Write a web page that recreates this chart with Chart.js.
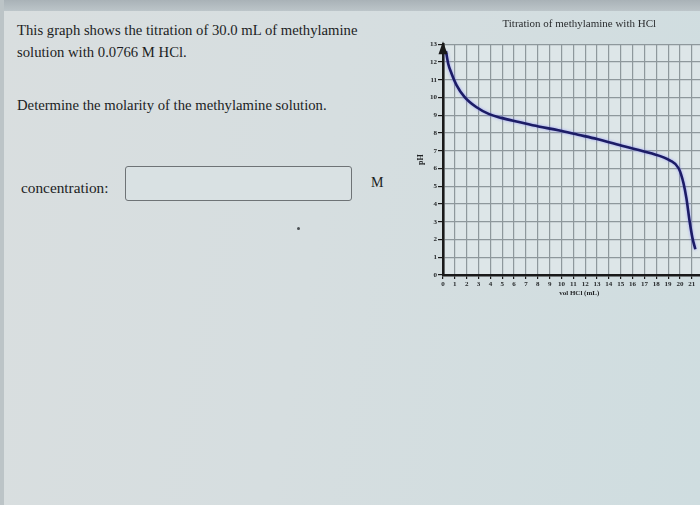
<!DOCTYPE html>
<html>
<head>
<meta charset="utf-8">
<script src="https://cdn.jsdelivr.net/npm/chart.js@4.4.0/dist/chart.umd.min.js"></script>
<style>
  html, body { margin: 0; padding: 0; }
  body {
    width: 700px; height: 505px; overflow: hidden; position: relative;
    background: linear-gradient(100deg, #d9dedf 0%, #d6dee0 45%, #cfdde0 100%);
    font-family: "Liberation Serif", "DejaVu Serif", serif;
    color: #1b1d1e;
  }
  .topband { position: absolute; left: 0; top: 0; width: 700px; height: 11px;
    background: linear-gradient(180deg, #a9b2b7, #bcc5c9); }
  .leftband { position: absolute; left: 0; top: 0; width: 4px; height: 505px; background: #bcc4c7; }
  .txt { position: absolute; font-size: 14.7px; line-height: 22px; white-space: nowrap; }
  .box { position: absolute; left: 125px; top: 166px; width: 225px; height: 33px;
    border: 1.5px solid #6e7376; border-radius: 3px; background: #d9e1e3; }
  .speck { position: absolute; left: 297px; top: 227px; width: 3px; height: 3px; border-radius: 50%; background: #4a4f52; }
  #chart-wrap { position: absolute; left: 400px; top: 0; width: 320px; height: 305px; }
</style>
</head>
<body>
<div class="topband"></div>
<div class="leftband"></div>

<div class="txt" style="left:17px; top:19px;">This graph shows the titration of 30.0 mL of methylamine</div>
<div class="txt" style="left:17px; top:41px;">solution with 0.0766 M HCl.</div>
<div class="txt" style="left:17px; top:94px;">Determine the molarity of the methylamine solution.</div>
<div class="txt" style="left:21px; top:177px; font-size:15.3px;">concentration:</div>
<div class="box"></div>
<div class="txt" style="left:371px; top:172px; font-size:14px;">M</div>
<div class="speck"></div>

<div id="chart-wrap"><canvas id="titration-chart"></canvas></div>

<script>
// بيانات المنحنى (مقروءة من الصورة)
const volHCl = [0.25, 0.44, 0.72, 1.14, 1.83, 2.8, 3.9, 4.9, 6.4, 8.06, 9.73, 11.4, 13.0, 15.27, 17.48, 19.14, 19.9, 20.3, 20.55, 20.8, 21.05, 21.3];
const pH     = [12.6, 11.9, 11.35, 10.7, 10.02, 9.46, 9.06, 8.85, 8.62, 8.37, 8.15, 7.9, 7.66, 7.25, 6.87, 6.46, 6.0, 5.17, 4.3, 3.1, 2.1, 1.45];

const chartTitle = "Titration of methylamine with HCl";
const xTitle = "vol HCl (mL)";
const yTitle = "pH";

const tickFont = { family: "Liberation Serif", size: 7, weight: "bold" };

// خلفية منطقة الرسم
const plotBackground = {
    id: "plotBackground",
    beforeDraw(chart) {
        const { ctx, chartArea: a } = chart;
        ctx.save();
        ctx.fillStyle = "#dde6e8";
        ctx.fillRect(a.left, a.top, a.right - a.left, a.bottom - a.top);
        ctx.restore();
    }
};

// توهج خفيف حول الخط
const lineGlow = {
    id: "lineGlow",
    beforeDatasetsDraw(chart) {
        chart.ctx.save();
        chart.ctx.shadowColor = "rgba(110, 110, 255, 0.6)";
        chart.ctx.shadowBlur = 3;
    },
    afterDatasetsDraw(chart) {
        chart.ctx.restore();
    }
};

// سهم أعلى محور pH
const axisArrow = {
    id: "axisArrow",
    afterDraw(chart) {
        const { ctx, chartArea: a } = chart;
        ctx.save();
        ctx.fillStyle = "#1a1a1a";
        ctx.beginPath();
        ctx.moveTo(a.left, a.top - 3);
        ctx.lineTo(a.left - 4.5, a.top + 10);
        ctx.lineTo(a.left + 4.5, a.top + 10);
        ctx.closePath();
        ctx.fill();
        ctx.restore();
    }
};

const ctx = document.getElementById("titration-chart").getContext("2d");
const chart = new Chart(ctx, {
    type: "line",
    data: {
        datasets: [{
            data: volHCl.map((v, i) => ({ x: v, y: pH[i] })),
            borderColor: "#1c1c66",
            borderWidth: 2.6,
            pointRadius: 0,
            fill: false,
            cubicInterpolationMode: "monotone"
        }]
    },
    options: {
        responsive: true,
        maintainAspectRatio: false,
        animation: false,
        layout: { padding: 0 },
        plugins: {
            legend: { display: false },
            tooltip: { enabled: false },
            title: {
                display: true,
                text: chartTitle,
                fullSize: false,
                color: "#2a2c2e",
                font: { family: "Liberation Serif", size: 11, weight: "normal", lineHeight: 1.2 },
                padding: { top: 18, bottom: 13 }
            }
        },
        scales: {
            x: {
                type: "linear",
                min: 0,
                max: 23,
                afterFit(scale) { scale.height = 30; },
                ticks: { stepSize: 1, autoSkip: false, maxRotation: 0, includeBounds: false,
                         color: "#1f2123", font: tickFont, padding: 1 },
                grid: { color: "#8e989c", lineWidth: 1.2, tickColor: "#1a1a1a", tickLength: 4 },
                border: { display: true, color: "#1a1a1a", width: 2.6 },
                title: { display: true, text: xTitle, color: "#1f2123",
                         font: { family: "Liberation Serif", size: 7, weight: "bold" },
                         padding: { top: 0, bottom: 8 } }
            },
            y: {
                min: 0,
                max: 13,
                afterFit(scale) { scale.width = 43; },
                ticks: { stepSize: 1, color: "#1f2123", font: tickFont, padding: 1 },
                grid: { color: "#8e989c", lineWidth: 1.2, tickColor: "#1a1a1a", tickLength: 5 },
                border: { display: true, color: "#1a1a1a", width: 2.6 },
                title: { display: true, text: yTitle, color: "#1f2123",
                         font: { family: "Liberation Serif", size: 8, weight: "bold" },
                         padding: { top: 16, bottom: 0 } }
            }
        }
    },
    plugins: [plotBackground, lineGlow, axisArrow]
});
</script>
</body>
</html>
